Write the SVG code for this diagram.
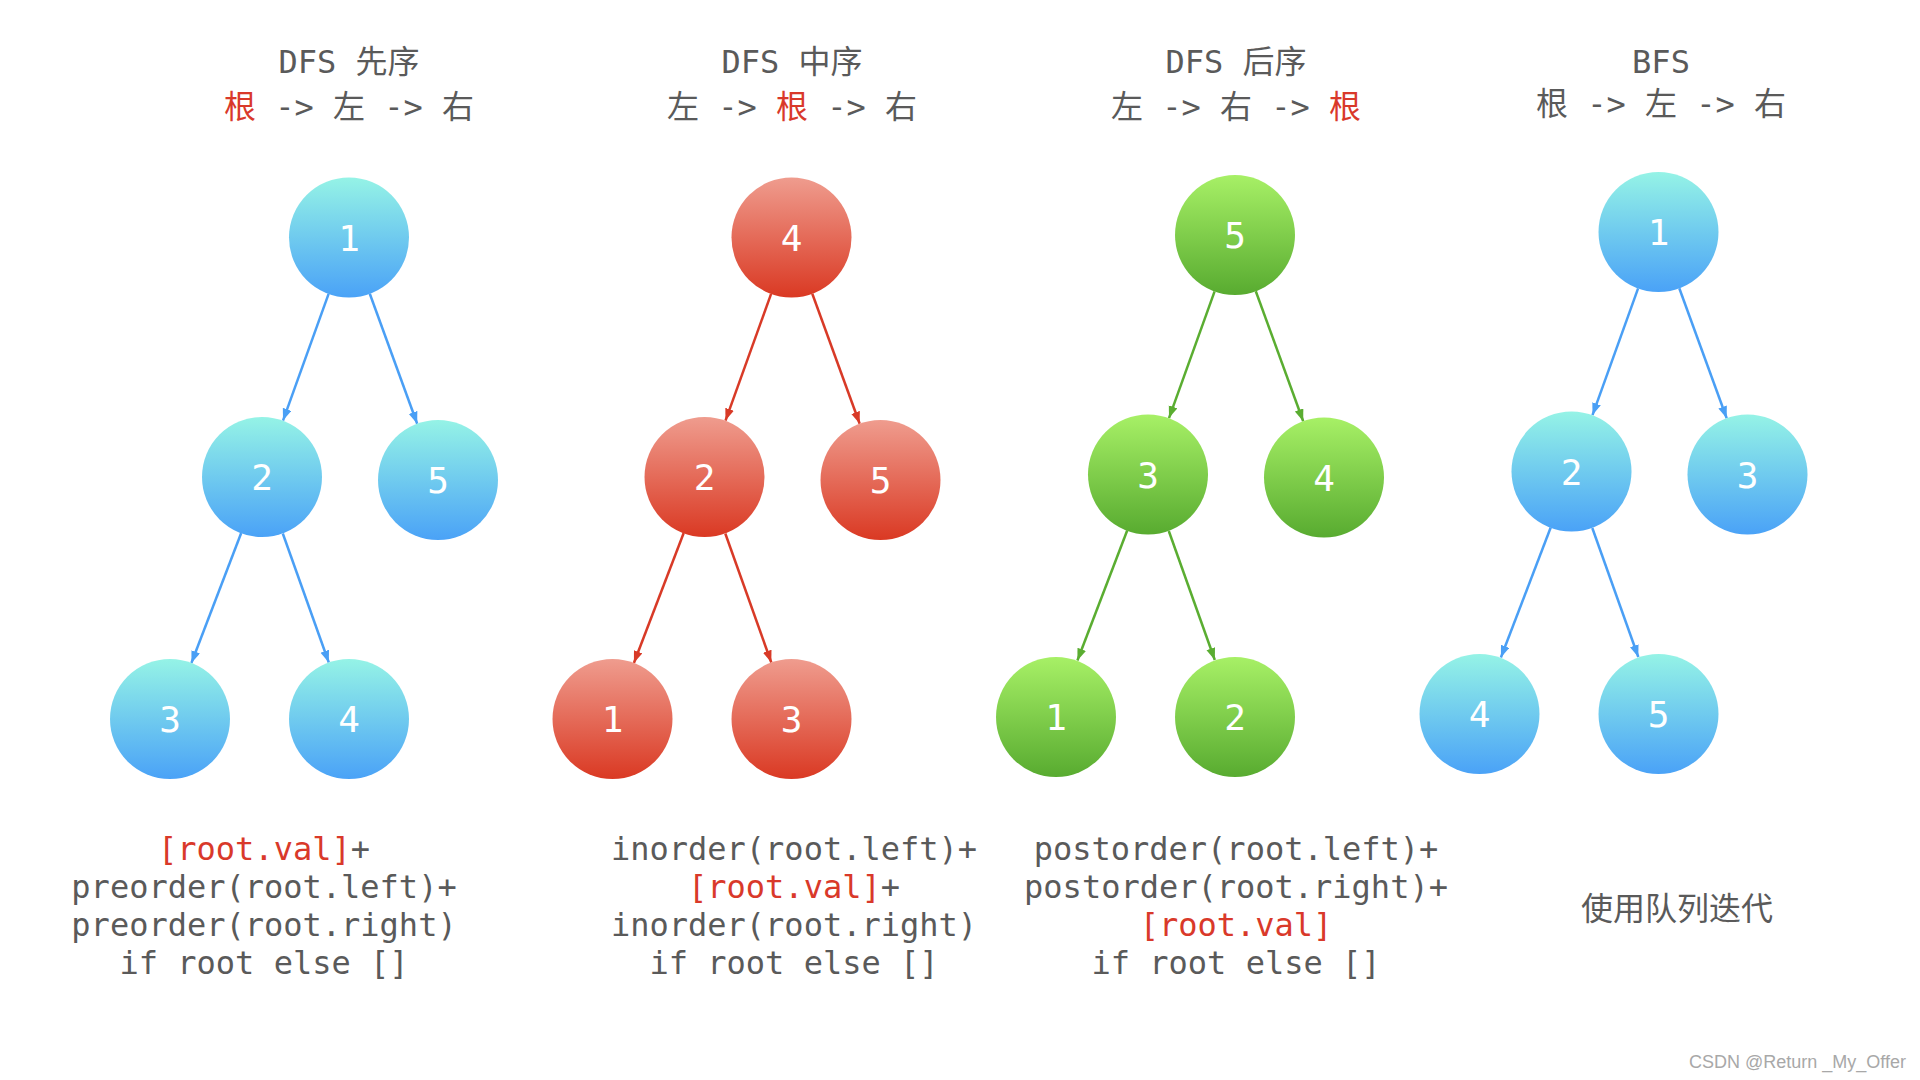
<svg xmlns="http://www.w3.org/2000/svg" width="1920" height="1080" viewBox="0 0 1920 1080">
<defs>
<linearGradient id="gBlue" x1="0" y1="0" x2="0" y2="1"><stop offset="0" stop-color="#95f3e6"/><stop offset="1" stop-color="#4aa2f7"/></linearGradient>
<linearGradient id="gRed" x1="0" y1="0" x2="0" y2="1"><stop offset="0" stop-color="#ef9c8e"/><stop offset="1" stop-color="#da3923"/></linearGradient>
<linearGradient id="gGreen" x1="0" y1="0" x2="0" y2="1"><stop offset="0" stop-color="#a7f066"/><stop offset="1" stop-color="#58ab30"/></linearGradient>
<marker id="aBlue" markerUnits="userSpaceOnUse" markerWidth="13" markerHeight="10" refX="12" refY="4.5" orient="auto"><path d="M0,0 L12,4.5 L0,9 z" fill="#4a9ff5"/></marker>
<marker id="aRed" markerUnits="userSpaceOnUse" markerWidth="13" markerHeight="10" refX="12" refY="4.5" orient="auto"><path d="M0,0 L12,4.5 L0,9 z" fill="#d83a27"/></marker>
<marker id="aGreen" markerUnits="userSpaceOnUse" markerWidth="13" markerHeight="10" refX="12" refY="4.5" orient="auto"><path d="M0,0 L12,4.5 L0,9 z" fill="#5aad31"/></marker>
</defs>
<style>
.t{font-family:"DejaVu Sans Mono","Noto Sans CJK SC",monospace;font-size:32px;fill:#5a5a5a;text-anchor:middle}
.r{fill:#d9392a}
.num{font-family:"DejaVu Sans Mono","DejaVu Sans",sans-serif;font-size:36px;fill:#ffffff;text-anchor:middle}
.cj{font-family:"Noto Sans CJK SC",sans-serif;font-size:32px;fill:#5a5a5a;text-anchor:middle}
.wm{font-family:"Liberation Sans",Arial,sans-serif;font-size:18px;fill:#a8a8a8;text-anchor:end}
.eb{stroke:#4a9ff5;stroke-width:2.5;fill:none;marker-end:url(#aBlue)}
.er{stroke:#d83a27;stroke-width:2.5;fill:none;marker-end:url(#aRed)}
.eg{stroke:#5aad31;stroke-width:2.5;fill:none;marker-end:url(#aGreen)}
.nb{fill:url(#gBlue)}
.nr{fill:url(#gRed)}
.ng{fill:url(#gGreen)}
</style>
<rect width="1920" height="1080" fill="#ffffff"/>

<g id="titles">
<text class="t" x="349" y="73">DFS 先序</text>
<text class="t" x="349" y="118"><tspan class="r">根</tspan> -&gt; 左 -&gt; 右</text>
<text class="t" x="792" y="73">DFS 中序</text>
<text class="t" x="792" y="118">左 -&gt; <tspan class="r">根</tspan> -&gt; 右</text>
<text class="t" x="1236" y="73">DFS 后序</text>
<text class="t" x="1236" y="118">左 -&gt; 右 -&gt; <tspan class="r">根</tspan></text>
<text class="t" x="1661" y="73">BFS</text>
<text class="t" x="1661" y="115">根 -&gt; 左 -&gt; 右</text>
</g>

<g id="connectors" transform="translate(-2,-1)">
<line class="eb" x1="330.6" y1="294.9" x2="285" y2="421.6"/>
<line class="eb" x1="371.8" y1="294.8" x2="419.2" y2="424.7"/>
<line class="eb" x1="243.2" y1="534" x2="193.4" y2="664"/>
<line class="eb" x1="284.8" y1="534.5" x2="330.8" y2="663.5"/>
<line class="er" x1="773.1" y1="294.9" x2="727.5" y2="421.6"/>
<line class="er" x1="814.3" y1="294.8" x2="861.7" y2="424.7"/>
<line class="er" x1="685.7" y1="534" x2="635.9" y2="664"/>
<line class="er" x1="727.3" y1="534.5" x2="773.3" y2="663.5"/>
<line class="eg" x1="1216.6" y1="292.4" x2="1171" y2="419.1"/>
<line class="eg" x1="1257.8" y1="292.3" x2="1305.2" y2="422.2"/>
<line class="eg" x1="1129.2" y1="531.5" x2="1079.4" y2="661.5"/>
<line class="eg" x1="1170.8" y1="532" x2="1216.8" y2="661"/>
<line class="eb" x1="1640.1" y1="289.4" x2="1594.5" y2="416.1"/>
<line class="eb" x1="1681.3" y1="289.3" x2="1728.7" y2="419.2"/>
<line class="eb" x1="1552.7" y1="528.5" x2="1502.9" y2="658.5"/>
<line class="eb" x1="1594.3" y1="529" x2="1640.3" y2="658"/>
</g>

<g id="nodes" transform="translate(-2,-1)">
<g id="pre-1"><circle class="nb" cx="351" cy="238.5" r="60"/><text class="num" x="351" y="251.5">1</text></g>
<g id="pre-2"><circle class="nb" cx="264" cy="478" r="60"/><text class="num" x="264" y="491">2</text></g>
<g id="pre-5"><circle class="nb" cx="440" cy="481" r="60"/><text class="num" x="440" y="494">5</text></g>
<g id="pre-3"><circle class="nb" cx="172" cy="720" r="60"/><text class="num" x="172" y="733">3</text></g>
<g id="pre-4"><circle class="nb" cx="351" cy="720" r="60"/><text class="num" x="351" y="733">4</text></g>

<g id="in-4"><circle class="nr" cx="793.5" cy="238.5" r="60"/><text class="num" x="793.5" y="251.5">4</text></g>
<g id="in-2"><circle class="nr" cx="706.5" cy="478" r="60"/><text class="num" x="706.5" y="491">2</text></g>
<g id="in-5"><circle class="nr" cx="882.5" cy="481" r="60"/><text class="num" x="882.5" y="494">5</text></g>
<g id="in-1"><circle class="nr" cx="614.5" cy="720" r="60"/><text class="num" x="614.5" y="733">1</text></g>
<g id="in-3"><circle class="nr" cx="793.5" cy="720" r="60"/><text class="num" x="793.5" y="733">3</text></g>

<g id="post-5"><circle class="ng" cx="1237" cy="236" r="60"/><text class="num" x="1237" y="249">5</text></g>
<g id="post-3"><circle class="ng" cx="1150" cy="475.5" r="60"/><text class="num" x="1150" y="488.5">3</text></g>
<g id="post-4"><circle class="ng" cx="1326" cy="478.5" r="60"/><text class="num" x="1326" y="491.5">4</text></g>
<g id="post-1"><circle class="ng" cx="1058" cy="718" r="60"/><text class="num" x="1058" y="731">1</text></g>
<g id="post-2"><circle class="ng" cx="1237" cy="718" r="60"/><text class="num" x="1237" y="731">2</text></g>

<g id="bfs-1"><circle class="nb" cx="1660.5" cy="233" r="60"/><text class="num" x="1660.5" y="246">1</text></g>
<g id="bfs-2"><circle class="nb" cx="1573.5" cy="472.5" r="60"/><text class="num" x="1573.5" y="485.5">2</text></g>
<g id="bfs-3"><circle class="nb" cx="1749.5" cy="475.5" r="60"/><text class="num" x="1749.5" y="488.5">3</text></g>
<g id="bfs-4"><circle class="nb" cx="1481.5" cy="715" r="60"/><text class="num" x="1481.5" y="728">4</text></g>
<g id="bfs-5"><circle class="nb" cx="1660.5" cy="715" r="60"/><text class="num" x="1660.5" y="728">5</text></g>
</g>

<g id="code">
<text class="t" x="264" y="860"><tspan class="r">[root.val]</tspan>+</text>
<text class="t" x="264" y="898">preorder(root.left)+</text>
<text class="t" x="264" y="936">preorder(root.right)</text>
<text class="t" x="264" y="974">if root else []</text>
<text class="t" x="794" y="860">inorder(root.left)+</text>
<text class="t" x="794" y="898"><tspan class="r">[root.val]</tspan>+</text>
<text class="t" x="794" y="936">inorder(root.right)</text>
<text class="t" x="794" y="974">if root else []</text>
<text class="t" x="1236" y="860">postorder(root.left)+</text>
<text class="t" x="1236" y="898">postorder(root.right)+</text>
<text class="t" x="1236" y="936"><tspan class="r">[root.val]</tspan></text>
<text class="t" x="1236" y="974">if root else []</text>
<text class="cj" x="1677" y="920">使用队列迭代</text>
</g>

<text class="wm" x="1906" y="1068">CSDN @Return _My_Offer</text>
</svg>
